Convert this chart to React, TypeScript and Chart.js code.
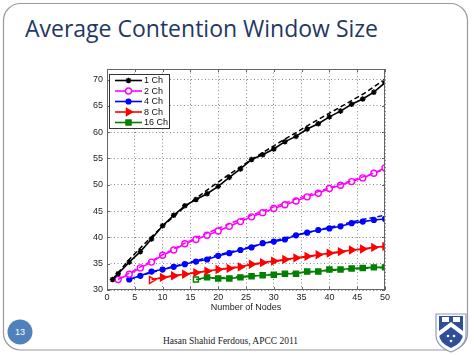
import React, { useEffect, useRef } from 'react';
import { Chart, registerables } from 'chart.js';
import { drawPoint } from 'chart.js/helpers';

Chart.register(...registerables);

const slideTitle = 'Average Contention Window Size';
const footerText = 'Hasan Shahid Ferdous, APCC 2011';
const slideNumber = '13';
const xTitle = 'Number of Nodes';
const seriesLabels = ['1 Ch', '2 Ch', '4 Ch', '8 Ch', '16 Ch'];
const xTicks = [0, 5, 10, 15, 20, 25, 30, 35, 40, 45, 50];
const yTicks = [30, 35, 40, 45, 50, 55, 60, 65, 70];

const nodes1 = [1, 2, 4, 6, 8, 10, 12, 14, 16, 18, 20, 22, 24, 26, 28, 30, 32, 34, 36, 38, 40, 42, 44, 46, 48, 50];
const nodes2 = [2, 4, 6, 8, 10, 12, 14, 16, 18, 20, 22, 24, 26, 28, 30, 32, 34, 36, 38, 40, 42, 44, 46, 48, 50];
const nodes4 = [4, 6, 8, 10, 12, 14, 16, 18, 20, 22, 24, 26, 28, 30, 32, 34, 36, 38, 40, 42, 44, 46, 48, 50];
const nodes8 = [8, 10, 12, 14, 16, 18, 20, 22, 24, 26, 28, 30, 32, 34, 36, 38, 40, 42, 44, 46, 48, 50];
const nodes16 = [16, 18, 20, 22, 24, 26, 28, 30, 32, 34, 36, 38, 40, 42, 44, 46, 48, 50];

const sim1 = [32.0, 33.1, 35.3, 37.3, 39.7, 42.2, 44.2, 46.0, 47.2, 48.3, 49.7, 51.4, 53.0, 54.8, 55.7, 56.8, 58.2, 59.2, 60.6, 61.6, 62.9, 64.0, 65.3, 66.3, 67.6, 69.4];
const theory1 = [32.0, 33.3, 35.8, 38.0, 40.1, 42.1, 44.0, 45.8, 47.4, 49.0, 50.5, 52.0, 53.4, 54.8, 56.1, 57.4, 58.7, 59.9, 61.2, 62.4, 63.6, 64.8, 66.0, 67.2, 68.6, 70.1];
const sim2 = [32.0, 33.0, 34.2, 35.3, 36.6, 37.6, 38.8, 39.6, 40.4, 41.2, 42.1, 43.0, 43.9, 44.7, 45.5, 46.2, 46.9, 47.7, 48.4, 49.3, 49.9, 50.6, 51.3, 52.2, 53.2];
const theory2 = [32.0, 33.2, 34.4, 35.5, 36.7, 37.8, 38.9, 39.9, 40.8, 41.7, 42.6, 43.4, 44.2, 45.0, 45.8, 46.5, 47.3, 48.0, 48.7, 49.4, 50.1, 50.8, 51.5, 52.2, 52.9];
const sim4 = [32.0, 32.7, 33.5, 33.9, 34.4, 34.9, 35.4, 35.8, 36.5, 37.0, 37.6, 38.1, 38.9, 39.2, 39.6, 40.4, 40.9, 41.4, 41.7, 42.1, 42.7, 43.0, 43.3, 43.5];
const theory4 = [32.0, 32.7, 33.3, 33.9, 34.5, 35.0, 35.6, 36.1, 36.7, 37.2, 37.7, 38.3, 38.8, 39.3, 39.9, 40.4, 40.9, 41.4, 41.9, 42.4, 42.9, 43.4, 43.8, 44.2];
const sim8 = [31.9, 32.4, 32.7, 33.0, 33.3, 33.6, 33.9, 34.1, 34.4, 34.9, 35.2, 35.5, 35.8, 36.1, 36.4, 36.7, 37.0, 37.3, 37.6, 37.8, 38.1, 38.3];
const theory8 = [32.0, 32.3, 32.7, 33.0, 33.3, 33.6, 33.9, 34.2, 34.5, 34.8, 35.1, 35.4, 35.7, 36.0, 36.3, 36.6, 36.9, 37.2, 37.5, 37.8, 38.0, 38.3];
const sim16 = [32.0, 32.4, 32.2, 32.2, 32.4, 32.6, 32.8, 32.9, 33.1, 33.1, 33.5, 33.5, 33.9, 33.9, 34.1, 34.2, 34.3, 34.3];
const theory16 = [32.0, 32.2, 32.3, 32.4, 32.6, 32.7, 32.8, 33.0, 33.1, 33.3, 33.4, 33.5, 33.7, 33.8, 33.9, 34.1, 34.2, 34.3];

const pts = (xs: number[], ys: number[]) => xs.map((x, i) => ({ x, y: ys[i] }));

const styles = [
  { color: '#000000', pointStyle: 'star', radius: 2.8, rotation: 0, open: false, openFirst: false },
  { color: '#ff00ff', pointStyle: 'circle', radius: 3, rotation: 0, open: true, openFirst: false },
  { color: '#0000ff', pointStyle: 'circle', radius: 2.4, rotation: 0, open: false, openFirst: false },
  { color: '#ff0000', pointStyle: 'triangle', radius: 4, rotation: 90, open: false, openFirst: true },
  { color: '#008000', pointStyle: 'rect', radius: 3.6, rotation: 0, open: false, openFirst: true },
];

const frameColor = '#666666';

const framePlugin = {
  id: 'matlabFrame',
  afterDraw(chart: any) {
    const { ctx, chartArea: a, scales } = chart;
    ctx.save();
    ctx.strokeStyle = frameColor;
    ctx.lineWidth = 1;
    ctx.strokeRect(a.left + 0.5, a.top + 0.5, a.right - a.left - 1, a.bottom - a.top - 1);
    ctx.beginPath();
    xTicks.forEach((v) => {
      const px = Math.round(scales.x.getPixelForValue(v)) + 0.5;
      ctx.moveTo(px, a.bottom);
      ctx.lineTo(px, a.bottom - 3);
      ctx.moveTo(px, a.top);
      ctx.lineTo(px, a.top + 3);
    });
    yTicks.forEach((v) => {
      const py = Math.round(scales.y.getPixelForValue(v)) + 0.5;
      ctx.moveTo(a.left, py);
      ctx.lineTo(a.left + 3, py);
      ctx.moveTo(a.right, py);
      ctx.lineTo(a.right - 3, py);
    });
    ctx.stroke();

    // legend
    const lx = a.left + 2;
    const ly = a.top + 5;
    const lw = 61;
    const lh = 55;
    ctx.fillStyle = '#ffffff';
    ctx.fillRect(lx, ly, lw, lh);
    ctx.strokeStyle = '#333333';
    ctx.lineWidth = 1;
    ctx.strokeRect(lx + 0.5, ly + 0.5, lw - 1, lh - 1);
    ctx.font = '9px "Liberation Sans", Arial, sans-serif';
    ctx.textBaseline = 'middle';
    seriesLabels.forEach((label, i) => {
      const s = styles[i];
      const y = ly + 6.5 + i * 10.5;
      ctx.strokeStyle = s.color;
      ctx.lineWidth = 1.6;
      ctx.beginPath();
      ctx.moveTo(lx + 6, y);
      ctx.lineTo(lx + 33, y);
      ctx.stroke();
      ctx.fillStyle = s.open ? '#ffffff' : s.color;
      ctx.strokeStyle = s.color;
      ctx.lineWidth = 1.4;
      drawPoint(ctx, { pointStyle: s.pointStyle, radius: s.radius, rotation: s.rotation, borderWidth: 1.4 }, lx + 19.5, y);
      ctx.fillStyle = '#111111';
      ctx.fillText(label, lx + 35, y + 0.5);
    });
    ctx.restore();
  },
};

export default function App() {
  const canvasRef = useRef<HTMLCanvasElement | null>(null);

  useEffect(() => {
    if (!canvasRef.current) return;
    const simData = [pts(nodes1, sim1), pts(nodes2, sim2), pts(nodes4, sim4), pts(nodes8, sim8), pts(nodes16, sim16)];
    const theoryData = [pts(nodes1, theory1), pts(nodes2, theory2), pts(nodes4, theory4), pts(nodes8, theory8), pts(nodes16, theory16)];
    const datasets: any[] = [];
    styles.forEach((s, i) => {
      datasets.push({
        label: seriesLabels[i] + ' (analysis)',
        data: theoryData[i],
        borderColor: s.color,
        borderWidth: 1.5,
        borderDash: [5, 3],
        pointRadius: 0,
        fill: false,
        tension: 0,
      });
    });
    styles.forEach((s, i) => {
      datasets.push({
        label: seriesLabels[i],
        data: simData[i],
        borderColor: s.color,
        borderWidth: 1.6,
        pointStyle: s.pointStyle,
        pointRadius: s.radius,
        pointRotation: s.rotation,
        pointBorderWidth: 1.4,
        pointBorderColor: s.color,
        pointBackgroundColor: (c: any) => (s.open || (s.openFirst && c.dataIndex === 0) ? '#ffffff' : s.color),
        fill: false,
        tension: 0,
      });
    });

    const tickFont = { family: '"Liberation Sans", Arial, sans-serif', size: 9, lineHeight: 1 };
    const chart = new Chart(canvasRef.current, {
      type: 'line',
      data: { datasets },
      options: {
        animation: false,
        responsive: false,
        events: [],
        layout: { padding: { left: 5, top: 9, right: 15, bottom: 0 } },
        plugins: { legend: { display: false }, tooltip: { enabled: false } },
        scales: {
          x: {
            type: 'linear',
            min: 0,
            max: 50,
            afterBuildTicks: (s: any) => {
              s.ticks = xTicks.map((v) => ({ value: v }));
            },
            afterFit: (s: any) => {
              s.height = 22;
            },
            grid: { color: '#8a8a8a', lineWidth: 1, drawTicks: false },
            border: { display: false, dash: [1, 2.5] },
            ticks: { font: tickFont, color: '#222222', padding: 3, maxRotation: 0, autoSkip: false },
            title: {
              display: true,
              text: xTitle,
              font: tickFont,
              color: '#222222',
              padding: { top: 0, bottom: 0 },
            },
          },
          y: {
            type: 'linear',
            min: 30,
            max: 72,
            afterBuildTicks: (s: any) => {
              s.ticks = yTicks.map((v) => ({ value: v }));
            },
            afterFit: (s: any) => {
              s.width = 32;
            },
            grid: { color: '#8a8a8a', lineWidth: 1, drawTicks: false },
            border: { display: false, dash: [1, 2.5] },
            ticks: { font: tickFont, color: '#222222', padding: 4, autoSkip: false },
          },
        },
      },
      plugins: [framePlugin],
    });
    return () => chart.destroy();
  }, []);

  return (
    <div style={{ position: 'fixed', left: 0, top: 0, width: 474, height: 355, background: '#ffffff', overflow: 'hidden' }}>
      <svg width={474} height={355} style={{ position: 'absolute', left: 0, top: 0 }}>
        <rect x={3.5} y={3.5} width={464} height={346.5} rx={17} ry={17} fill="#ffffff" stroke="#9a9a9a" strokeWidth={1.2} />
        <text x={25} y={36.5} fontFamily="'Open Sans', 'Noto Sans', sans-serif" fontSize={23} fill="#1f3864" textLength={353} lengthAdjust="spacingAndGlyphs">
          {slideTitle}
        </text>
        <text x={163} y={343.5} fontFamily="'Liberation Serif', 'DejaVu Serif', serif" fontSize={11} fill="#222222" textLength={135} lengthAdjust="spacingAndGlyphs">
          {footerText}
        </text>
        <circle cx={20} cy={332} r={12.5} fill="#4f81bd" />
        <text x={20} y={335} fontFamily="'Liberation Sans', Arial, sans-serif" fontSize={9} fill="#ffffff" textAnchor="middle">
          {slideNumber}
        </text>
        <g>
          <path d="M436,314 H466 V335 Q466,346 451,352 Q436,346 436,335 Z" fill="#ffffff" stroke="#8a9bc4" strokeWidth={1.2} />
          <path d="M439,316 H463 V334 Q463,343 451,348 Q439,343 439,334 Z" fill="#2f4f9a" />
          <path d="M439,331 L451,322 L463,331 L463,336 L451,327 L439,336 Z" fill="#ffffff" />
          <rect x={442} y={317} width={7} height={5} fill="#ffffff" />
          <rect x={453} y={317} width={7} height={5} fill="#ffffff" />
          <circle cx={448} cy={336} r={1.3} fill="#ffffff" />
          <circle cx={454} cy={336} r={1.3} fill="#ffffff" />
          <circle cx={451} cy={341} r={1.3} fill="#ffffff" />
        </g>
      </svg>
      <canvas ref={canvasRef} width={330} height={252} style={{ position: 'absolute', left: 70, top: 60, width: 330, height: 252 }} />
    </div>
  );
}
